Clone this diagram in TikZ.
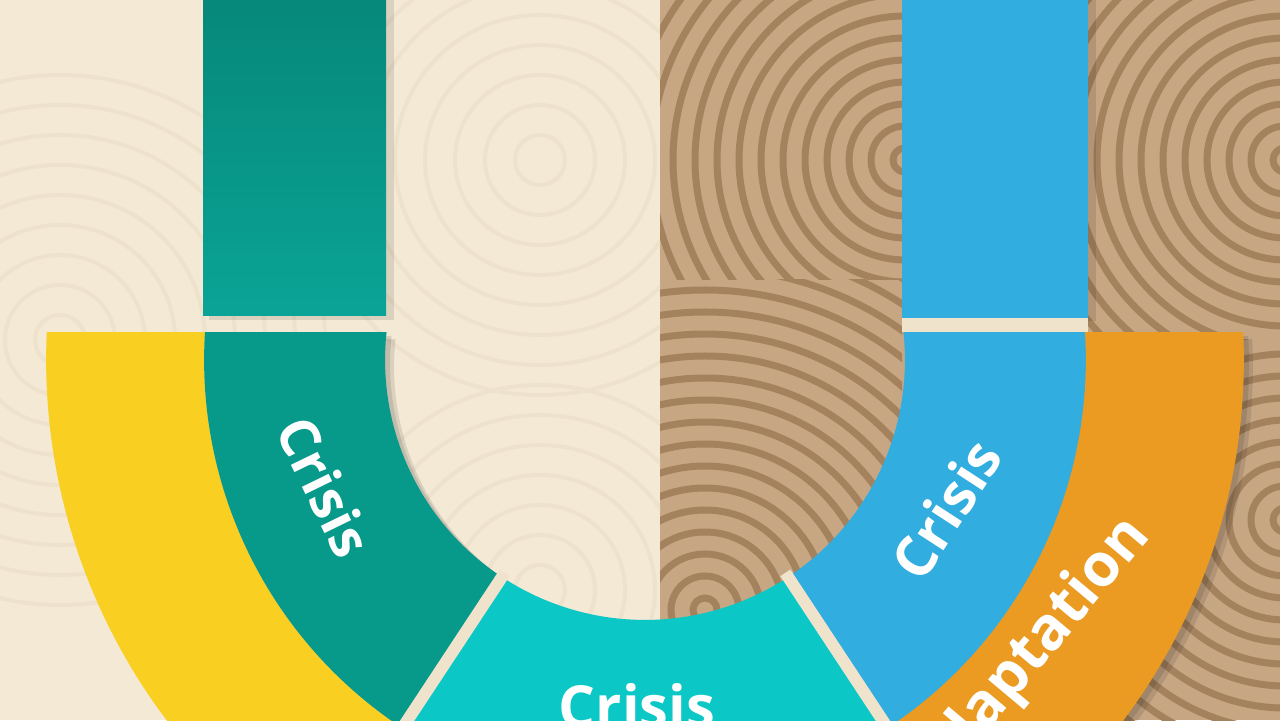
\documentclass[tikz,border=0pt]{standalone}
\usepackage{fontspec}
\newfontfamily\labfont{Open Sans}
\definecolor{cream}{HTML}{F4E9D5}
\definecolor{creamline}{HTML}{EFE2CC}
\definecolor{gapcream}{HTML}{EFE3CC}
\definecolor{tan}{HTML}{C7A684}
\definecolor{tanDark}{HTML}{A4825E}
\definecolor{yellowband}{HTML}{F9CF22}
\definecolor{tealarc}{HTML}{07998A}
\definecolor{tealtop}{HTML}{06887A}
\definecolor{tealbot}{HTML}{0AA496}
\definecolor{cyanband}{HTML}{0BC8C7}
\definecolor{blueband}{HTML}{31ADDF}
\definecolor{orangeband}{HTML}{EB9B22}
\tikzset{
  stripe/.style={draw=tanDark, line width=0.14cm},
  faint/.style={draw=creamline, line width=0.08cm},
  shadowfill/.style={fill=black, fill opacity=0.10},
  label/.style={text=white, font=\labfont\bfseries, inner sep=0pt},
  gapline/.style={draw=gapcream, line width=0.24cm}
}
\def\tealring{(173.817:5.2cm) -- (176.36:8.82cm) arc[start angle=176.36,end angle=236.6,radius=8.82cm] -- (236.6:5.2cm) arc[start angle=236.6,end angle=173.817,radius=5.2cm] -- cycle}
\def\yellowring{(176.36:8.82cm) -- (177.32:11.98cm) arc[start angle=177.32,end angle=270,radius=11.98cm] -- (270:8.82cm) arc[start angle=270,end angle=176.36,radius=8.82cm] -- cycle}
\def\cyanring{(236.6:5.2cm) -- (236.6:8.82cm) arc[start angle=236.6,end angle=303.4,radius=8.82cm] -- (303.4:5.2cm) arc[start angle=303.4,end angle=236.6,radius=5.2cm] -- cycle}
\def\bluering{(-56.6:5.2cm) -- (-56.6:8.82cm) arc[start angle=-56.6,end angle=3.64,radius=8.82cm] -- (6.183:5.2cm) arc[start angle=6.183,end angle=-56.6,radius=5.2cm] -- cycle}
\def\orangering{(-90:8.82cm) -- (-90:11.98cm) arc[start angle=-90,end angle=2.68,radius=11.98cm] -- (3.64:8.82cm) arc[start angle=3.64,end angle=-90,radius=8.82cm] -- cycle}
\begin{document}
\begin{tikzpicture}[x=0.02cm,y=0.02cm]
\useasboundingbox (0,0) rectangle (1280,720);
\clip (0,0) rectangle (1280,720);
% backgrounds
\fill[cream] (0,0) rectangle (660,720);
\fill[tan] (660,0) rectangle (1280,720);
% faint swirls on cream side
\begin{scope}
  \clip (0,0) rectangle (660,720);
  \foreach \r in {25,55,...,265} \draw[faint] (60,380) circle[radius=\r*0.02cm];
  \foreach \r in {25,55,...,235} \draw[faint] (540,560) circle[radius=\r*0.02cm];
  \foreach \r in {25,55,...,205} \draw[faint] (540,130) circle[radius=\r*0.02cm];
\end{scope}
% stripes on tan side
\begin{scope}
  \clip (660,440) rectangle (902,720);
  \foreach \r in {12,34,...,320} \draw[stripe] (905,560) circle[radius=\r*0.02cm];
\end{scope}
\begin{scope}
  \clip (660,0) rectangle (902,440);
  \foreach \r in {12,34,...,420} \draw[stripe] (705,110) circle[radius=\r*0.02cm];
\end{scope}
\begin{scope}
  \clip (1088,380) rectangle (1280,720);
  \foreach \r in {12,34,...,300} \draw[stripe] (1285,560) circle[radius=\r*0.02cm];
\end{scope}
\begin{scope}
  \clip (1088,0) rectangle (1280,380);
  \foreach \r in {12,34,...,300} \draw[stripe] (1285,200) circle[radius=\r*0.02cm];
\end{scope}
% top rectangles
\fill[shadowfill] (209,400) rectangle (394,730);
\fill[shadowfill] (906,399) rectangle (1096,730);
\fill[top color=tealtop, bottom color=tealbot] (203,404) rectangle (386,720);
\fill[blueband] (902,402) rectangle (1088,720);
% cream strip under blue rect
\fill[gapcream] (902,388) rectangle (1088,402);
% ring with shadows
\begin{scope}[shift={(645,360)}]
  \begin{scope}[shift={(5,-4)}]
    \fill[shadowfill] \yellowring;
    \fill[shadowfill] \tealring;
    \fill[shadowfill] \cyanring;
    \fill[shadowfill] \bluering;
    \fill[shadowfill] \orangering;
  \end{scope}
  \begin{scope}[shift={(9,-7)}]
    \fill[shadowfill] \orangering;
    \fill[shadowfill] \tealring;
  \end{scope}
  \fill[yellowband] \yellowring;
  \fill[tealarc] \tealring;
  \fill[cyanband] \cyanring;
  \fill[blueband] \bluering;
  \fill[orangeband] \orangering;
  \draw[gapline] (236.6:5.1cm) -- (236.6:8.83cm);
  \draw[gapline] (303.4:5.1cm) -- (303.4:8.83cm);
\end{scope}
% labels
\node[label, font=\labfont\bfseries\fontsize{31}{31}\selectfont, rotate=-64] (crisisL) at (325,233) {Crisis};
\node[label, font=\labfont\bfseries\fontsize{32}{32}\selectfont, rotate=57] (crisisR) at (946,211) {Crisis};
\node[label, font=\labfont\bfseries\fontsize{33}{33}\selectfont, anchor=base] (crisisB) at (637,-7) {Crisis};
\node[label, font=\labfont\bfseries\fontsize{34}{34}\selectfont, rotate=50, anchor=east] (adapt) at (1140,194) {Adaptation};
\end{tikzpicture}
\end{document}
